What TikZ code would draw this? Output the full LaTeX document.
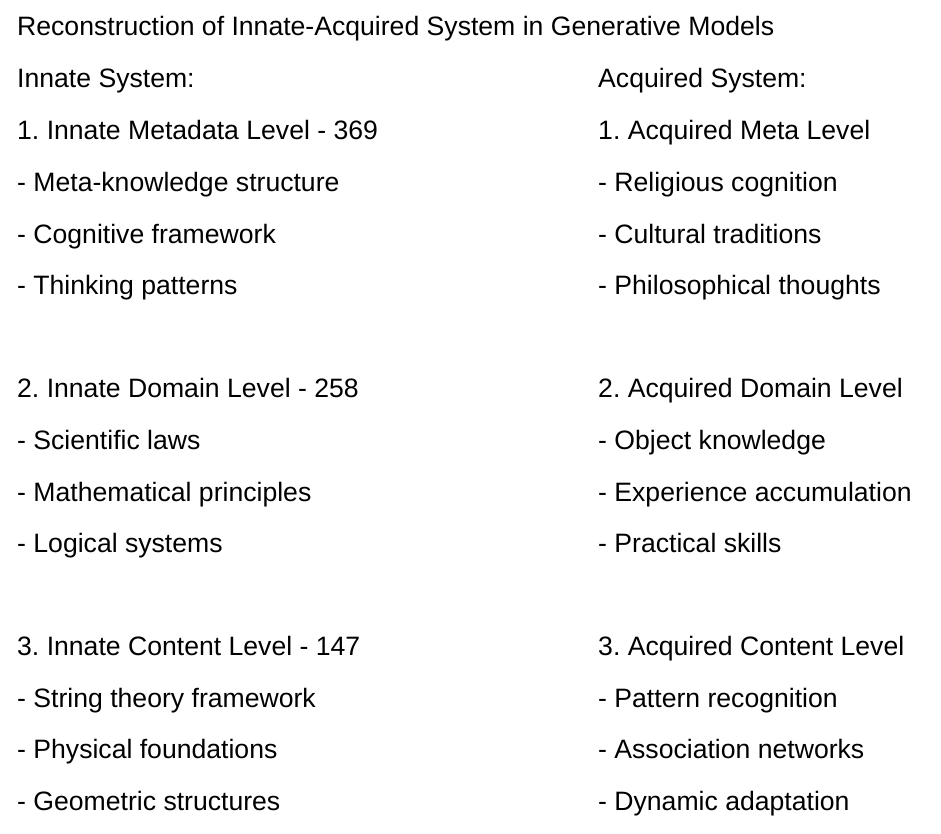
\documentclass[tikz,border=0pt]{standalone}
\usepackage{fontspec}
\setmainfont{Liberation Sans}
\frenchspacing
\tikzset{txt/.style={anchor=base west,inner sep=0pt,font=\fontsize{26.6}{30}\selectfont}}

\begin{document}
\begin{tikzpicture}[x=1pt,y=-1pt]
\useasboundingbox (0,0) rectangle (941,833);
\node[txt] at (17, 35) (title) {Reconstruction of Innate-Acquired System in Generative Models};
\node[txt] at (17, 87) (inh) {Innate System:};
\node[txt] at (598, 87) (acqh) {Acquired System:};
% innate column
\node[txt] at (17, 139) (in1) {1. Innate Metadata Level - 369};
\node[txt] at (17, 191) (in1a) {- Meta-knowledge structure};
\node[txt] at (17, 243) (in1b) {- Cognitive framework};
\node[txt] at (17, 294) (in1c) {- Thinking patterns};
\node[txt] at (17, 397) (in2) {2. Innate Domain Level - 258};
\node[txt] at (17, 449) (in2a) {- Scientific laws};
\node[txt] at (17, 501) (in2b) {- Mathematical principles};
\node[txt] at (17, 552) (in2c) {- Logical systems};
\node[txt] at (17, 655) (in3) {3. Innate Content Level - 147};
\node[txt] at (17, 707) (in3a) {- String theory framework};
\node[txt] at (17, 758) (in3b) {- Physical foundations};
\node[txt] at (17, 810) (in3c) {- Geometric structures};
% acquired column
\node[txt] at (598, 139) (ac1) {1. Acquired Meta Level};
\node[txt] at (598, 191) (ac1a) {- Religious cognition};
\node[txt] at (598, 243) (ac1b) {- Cultural traditions};
\node[txt] at (598, 294) (ac1c) {- Philosophical thoughts};
\node[txt] at (598, 397) (ac2) {2. Acquired Domain Level};
\node[txt] at (598, 449) (ac2a) {- Object knowledge};
\node[txt] at (598, 501) (ac2b) {- Experience accumulation};
\node[txt] at (598, 552) (ac2c) {- Practical skills};
\node[txt] at (598, 655) (ac3) {3. Acquired Content Level};
\node[txt] at (598, 707) (ac3a) {- Pattern recognition};
\node[txt] at (598, 758) (ac3b) {- Association networks};
\node[txt] at (598, 810) (ac3c) {- Dynamic adaptation};
\end{tikzpicture}
\end{document}
